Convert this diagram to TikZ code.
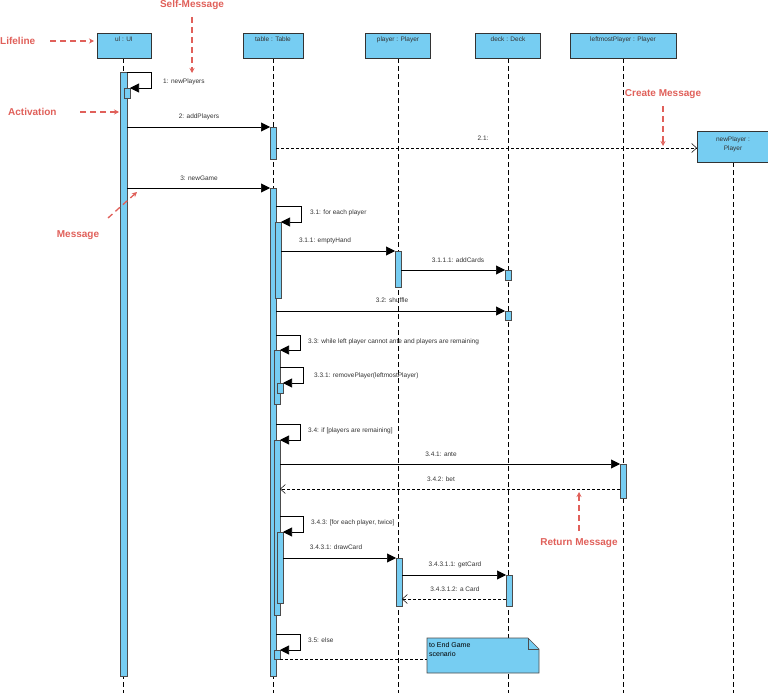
\documentclass[tikz,border=0pt]{standalone}
\usepackage{fontspec}
\setmainfont{Liberation Sans}
\usetikzlibrary{arrows.meta}
\definecolor{lb}{HTML}{76CDF2}
\definecolor{rd}{HTML}{E0605A}
\begin{document}
\begin{tikzpicture}[x=1pt,y=-1pt,
 hdr/.style={draw=black!80,fill=lb,line width=0.6pt},
 act/.style={draw=black!70,fill=lb,line width=0.6pt},
 life/.style={dash pattern=on 5pt off 3pt,line width=0.5pt},
 msg/.style={-{Triangle[length=9pt,width=9pt]},line width=0.6pt},
 ret/.style={dash pattern=on 3pt off 2pt,-{Straight Barb[length=5pt,width=9pt]},line width=0.5pt},
 lbl/.style={font=\fontsize{6.5}{7}\selectfont,text=black!80,inner sep=0pt},
 ann/.style={font=\bfseries\fontsize{10}{11}\selectfont,text=rd,inner sep=0pt},
 aar/.style={rd,line width=1.3pt,dash pattern=on 6pt off 4pt,-{Stealth[length=5pt,width=5pt]}}]
\useasboundingbox (0,0) rectangle (768,693);
% lifelines
\foreach \n/\x in {ui/123,tb/273,pl/398,dk/508,lm/623}{\draw[life] (\x,58) -- (\x,693);}
\draw[life] (733,162) -- (733,693);
% headers
\node[hdr,minimum width=54pt,minimum height=25pt,anchor=north west] (hui) at (97,33) {};
\node[lbl,anchor=north] at (124,37) {ul : UI};
\node[hdr,minimum width=60pt,minimum height=25pt,anchor=north west] (htb) at (243,33) {};
\node[lbl,anchor=north] at (273,37) {table : Table};
\node[hdr,minimum width=65pt,minimum height=25pt,anchor=north west] (hpl) at (365,33) {};
\node[lbl,anchor=north] at (398,37) {player : Player};
\node[hdr,minimum width=65pt,minimum height=25pt,anchor=north west] (hdk) at (475,33) {};
\node[lbl,anchor=north] at (508,37) {deck : Deck};
\node[hdr,minimum width=106pt,minimum height=25pt,anchor=north west] (hlm) at (570,33) {};
\node[lbl,anchor=north] at (623,37) {leftmostPlayer : Player};
\node[hdr,minimum width=71pt,minimum height=31pt,anchor=north west] (hnp) at (697,131) {};
\node[lbl,align=center,anchor=north] at (733,137) {newPlayer :\\[2pt]Player};
% activations
\draw[act] (120,72) rectangle (127,676);
\draw[act] (124,88) rectangle (130,98);
\draw[act] (270,127) rectangle (276,159);
\draw[act] (270,188) rectangle (276,676);
\draw[act] (275,222) rectangle (281,298);
\draw[act] (395,251) rectangle (401,287);
\draw[act] (505,270) rectangle (511,280);
\draw[act] (505,311) rectangle (511,320);
\draw[act] (274,350) rectangle (280,404);
\draw[act] (277,383) rectangle (283,393);
\draw[act] (274,440) rectangle (280,615);
\draw[act] (620,464) rectangle (626,498);
\draw[act] (277,532) rectangle (283,603);
\draw[act] (396,558) rectangle (402,606);
\draw[act] (506,575) rectangle (512,606);
\draw[act] (274,650) rectangle (280,659);
% messages
\draw[msg] (127,72) -- (151,72) -- (151,88) -- (130,88);
\node[lbl,anchor=west] at (163,82) {1: newPlayers};
\draw[msg] (127,127) -- (270,127); \node[lbl] at (199,117) {2: addPlayers};
\draw[ret] (276,148) -- (697,148); \node[lbl] at (483,138) {2.1:};
\draw[msg] (127,188) -- (270,188); \node[lbl] at (199,178) {3: newGame};
\draw[msg] (276,206) -- (301,206) -- (301,222) -- (281,222);
\node[lbl,anchor=west] at (310,213) {3.1: for each player};
\draw[msg] (281,251) -- (395,251); \node[lbl] at (325,241) {3.1.1: emptyHand};
\draw[msg] (401,270) -- (505,270); \node[lbl] at (458,260) {3.1.1.1: addCards};
\draw[msg] (276,311) -- (505,311); \node[lbl] at (392,300) {3.2: shuffle};
\draw[msg] (276,335) -- (300,335) -- (300,350) -- (280,350);
\node[lbl,anchor=west] at (308,342) {3.3: while left player cannot ante and players are remaining};
\draw[msg] (280,367) -- (303,367) -- (303,383) -- (283,383);
\node[lbl,anchor=west] at (314,376) {3.3.1: removePlayer(leftmostPlayer)};
\draw[msg] (276,424) -- (300,424) -- (300,440) -- (280,440);
\node[lbl,anchor=west] at (308,431) {3.4: if [players are remaining]};
\draw[msg] (280,464) -- (620,464); \node[lbl] at (441,454) {3.4.1: ante};
\draw[ret] (620,489) -- (280,489); \node[lbl] at (441,479) {3.4.2: bet};
\draw[msg] (280,516) -- (303,516) -- (303,532) -- (283,532);
\node[lbl,anchor=west] at (311,523) {3.4.3: [for each player, twice]};
\draw[msg] (283,558) -- (396,558); \node[lbl] at (336,547) {3.4.3.1: drawCard};
\draw[msg] (402,575) -- (506,575); \node[lbl] at (455,565) {3.4.3.1.1: getCard};
\draw[ret] (506,599) -- (402,599); \node[lbl] at (455,589) {3.4.3.1.2: a Card};
\draw[msg] (276,634) -- (300,634) -- (300,650) -- (280,650);
\node[lbl,anchor=west] at (308,640) {3.5: else};
% note
\draw[act] (427,638) -- (528,638) -- (539,649) -- (539,673) -- (427,673) -- cycle;
\draw[black!70,line width=0.6pt] (528,638) -- (528,649) -- (539,649);
\node[font=\fontsize{7}{9}\selectfont,align=left,anchor=north west,inner sep=0pt] (note) at (429,642) {to End Game\\scenario};
\draw[life,dash pattern=on 3pt off 2pt] (280,659) -- (427,659);
% annotations
\node[ann,anchor=west] (a1) at (0,41) {Lifeline};
\draw[aar] (50,41) -- (94,41);
\node[ann] (a2) at (192,5) {Self-Message};
\draw[aar] (192,17) -- (192,73);
\node[ann,anchor=west] (a3) at (8,112) {Activation};
\draw[aar] (80,112) -- (119,112);
\node[ann] (a4) at (78,235) {Message};
\draw[aar] (108,218) -- (137,192);
\node[ann] (a5) at (663,94) {Create Message};
\draw[aar] (663,106) -- (663,146);
\node[ann] (a6) at (579,543) {Return Message};
\draw[aar] (579,531) -- (579,492);
\end{tikzpicture}
\end{document}
